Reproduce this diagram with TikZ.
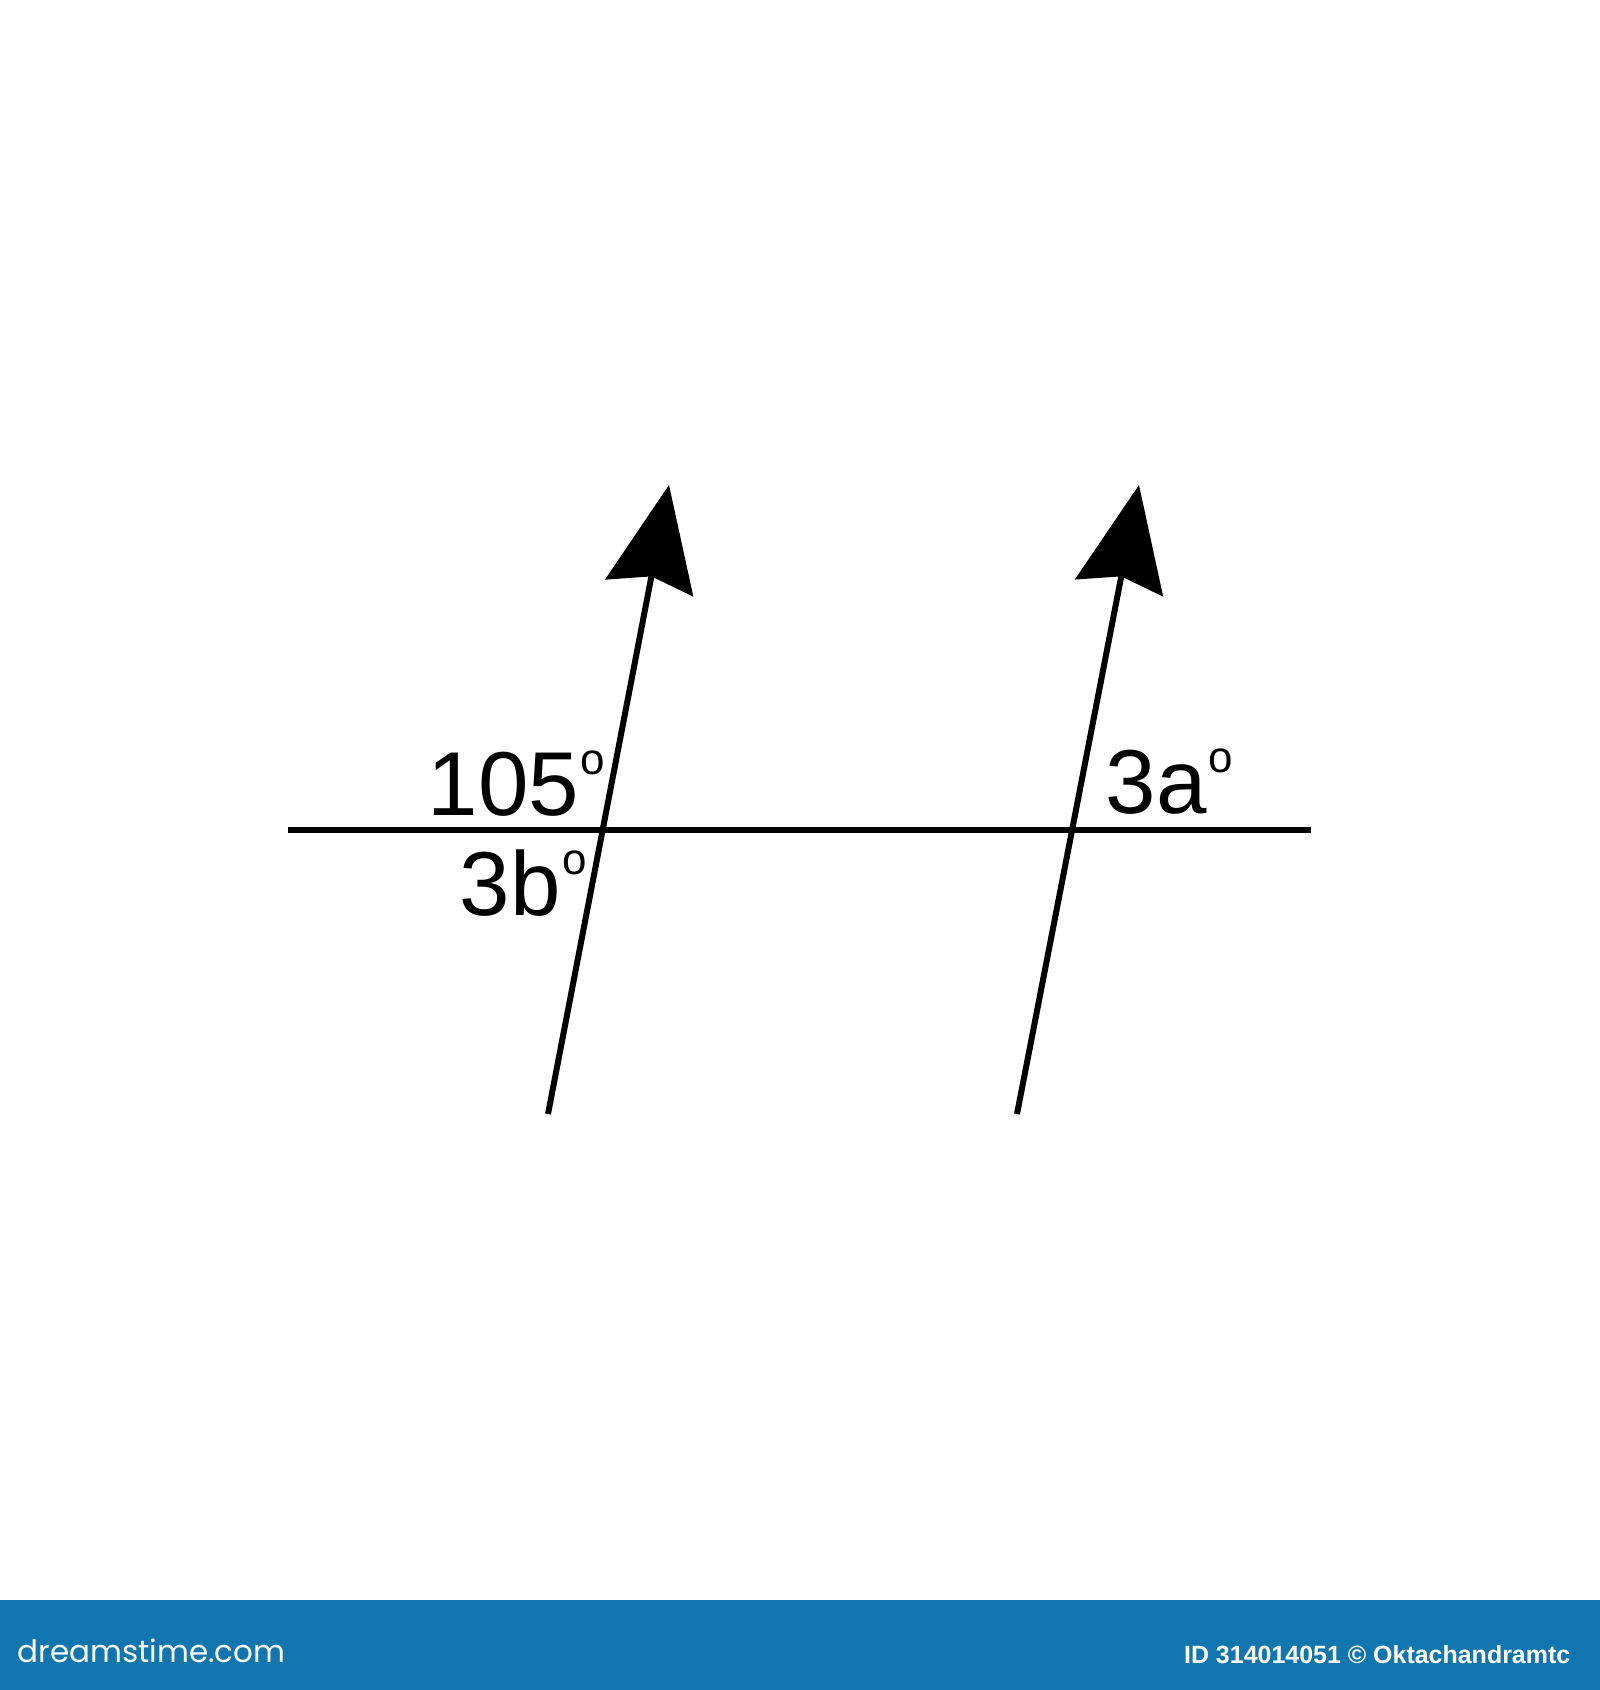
\documentclass[tikz,border=0pt]{standalone}
\usepackage{fontspec}
\setmainfont{Liberation Sans}
\newfontfamily\logofont{Poppins}
\usetikzlibrary{arrows.meta}
\definecolor{bannerblue}{RGB}{17,118,175}
\newcommand{\dego}{\kern0.5pt\raisebox{11.5pt}{\fontsize{12.5}{14}\selectfont o}}

\begin{document}
\begin{tikzpicture}[x=0.01cm, y=-0.01cm,
    line/.style={line width=1.7pt},
    ray/.style={line, -{Stealth[length=10.5mm, width=9mm, inset=1.2mm, line width=0pt]}},
    angle/.style={inner sep=0pt, font=\fontsize{25.8}{30}\selectfont}]
  \useasboundingbox (0,0) rectangle (1600,1690);
  \coordinate (hl) at (288,830);
  \coordinate (hr) at (1311,830);
  \coordinate (b1) at (548,1114);
  \coordinate (t1) at (669,485);
  \coordinate (b2) at (1017,1114);
  \coordinate (t2) at (1139,485);
  \draw[line] (hl) -- (hr);
  \draw[ray] (b1) -- (t1);
  \draw[ray] (b2) -- (t2);
  \node[angle, anchor=base west] (ang1) at (427,815) {105\dego};
  \node[angle, anchor=base west] (ang2) at (459,915) {3b\dego};
  \node[angle, anchor=base west] (ang3) at (1105,813) {3a\dego};
  % banner
  \fill[bannerblue] (0,1600) rectangle (1600,1690);
  \node[inner sep=0pt, anchor=base west, text=white, font=\logofont\fontsize{8.8}{11}\selectfont] (logo) at (17,1662) {dreamstime.com};
  \node[inner sep=0pt, anchor=base east, text=white, font=\bfseries\fontsize{7.1}{9}\selectfont] (credit) at (1571,1663) {ID 314014051 © Oktachandramtc};
\end{tikzpicture}
\end{document}
